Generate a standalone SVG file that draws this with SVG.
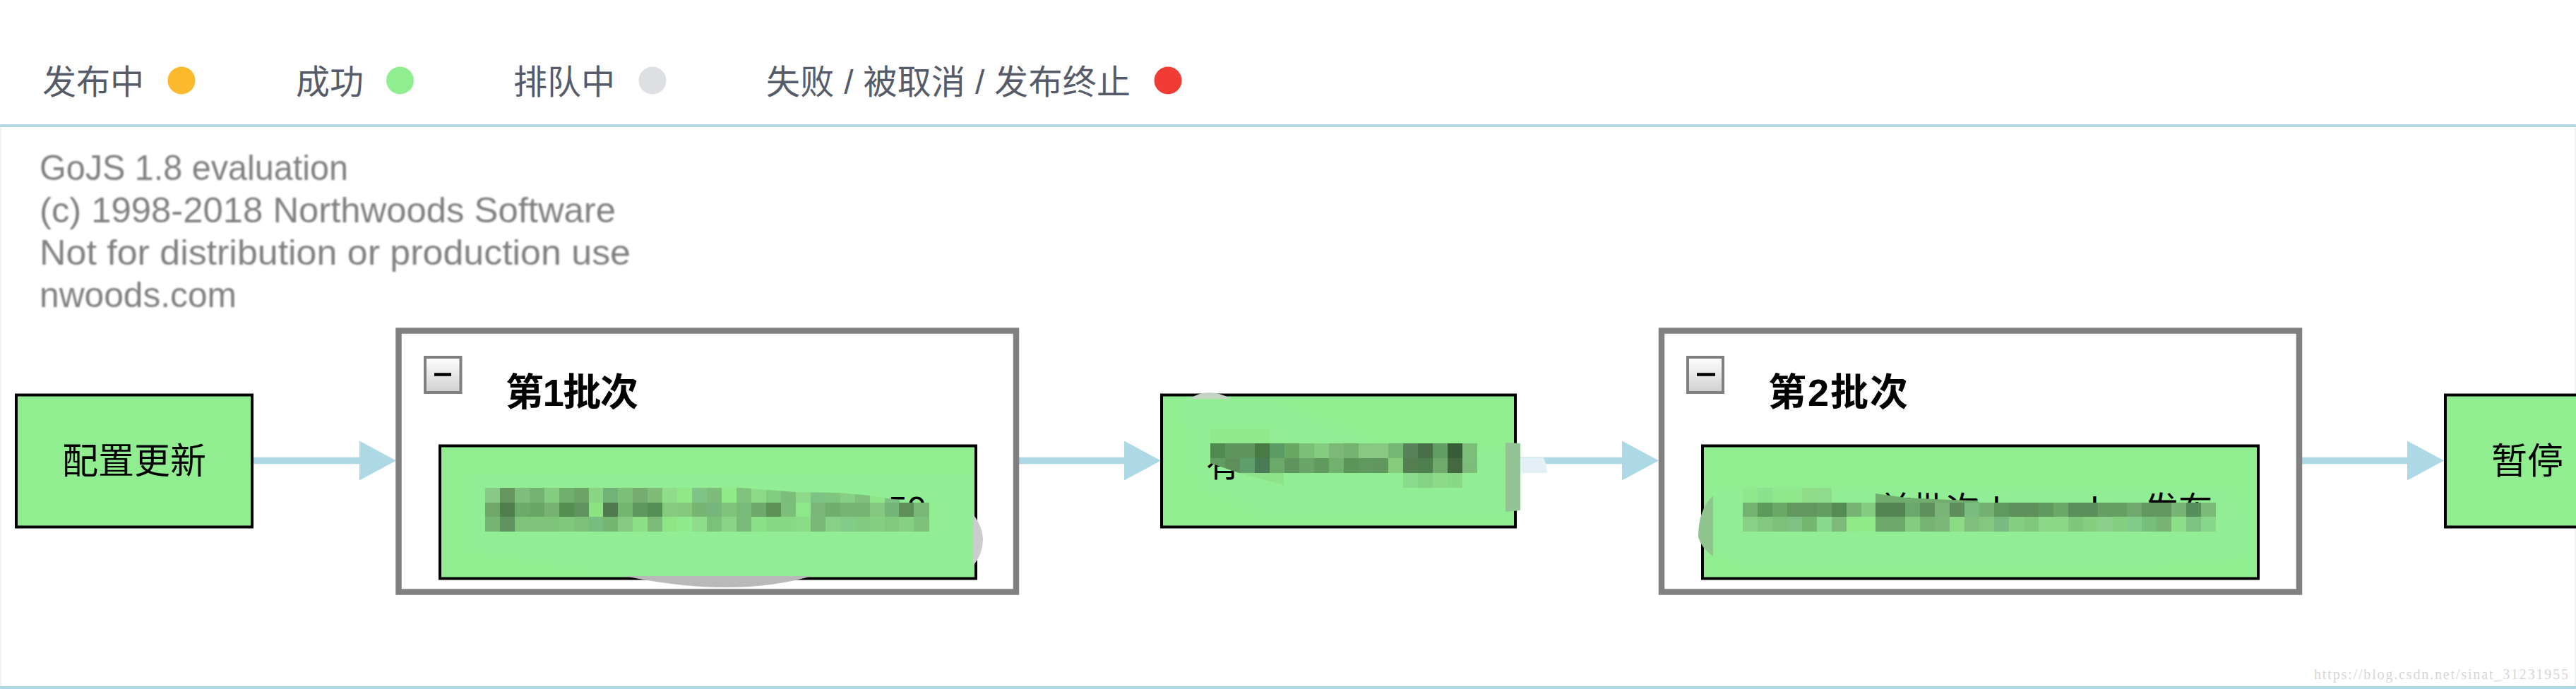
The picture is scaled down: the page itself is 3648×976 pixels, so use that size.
<svg xmlns="http://www.w3.org/2000/svg" width="3648" height="976" viewBox="0 0 3648 976">
<style>
text{font-family:"Liberation Sans","Noto Sans CJK SC",sans-serif}
.leg{font-size:48px;fill:#565b69}
.wm{font-size:50px;fill:#808080;filter:url(#soft)}
.lbl{font-size:51px;fill:#000;text-anchor:middle}
.frag{font-size:48px;fill:#000}
.ttl{font-size:54px;font-weight:700;fill:#000}
.box{fill:#90ee90;stroke:#000;stroke-width:4}
.grp{fill:#fff;stroke:#808080;stroke-width:8.5}
.btn{fill:url(#btnG);stroke:#808080;stroke-width:4}
.min{stroke:#000;stroke-width:4.5}
.lnk{fill:none;stroke:#add8e6;stroke-width:9.5;marker-end:url(#head)}
.pat{fill:#92ee94}
</style>
<defs>
<linearGradient id="btnG" x1="0" y1="0" x2="0" y2="1"><stop offset="0" stop-color="#fff"/><stop offset="1" stop-color="#cfcfcf"/></linearGradient>
<filter id="soft" x="-2%" y="-20%" width="104%" height="140%"><feGaussianBlur stdDeviation="0.8"/></filter>
<marker id="head" markerUnits="userSpaceOnUse" markerWidth="52" markerHeight="56" refX="1" refY="28" orient="auto"><path d="M0 0L52 28L0 56Z" fill="#add8e6"/></marker>
<clipPath id="c1"><path d="M680 691H1050L1127 697L1187 698L1233 702L1313 715L1320 760H680Z"/></clipPath>
<clipPath id="c2"><path d="M1700 640L1693 649L1755 670H2100V640Z"/></clipPath>
<clipPath id="c3"><path d="M1693 649L1818 687V700H1693Z"/></clipPath>
</defs>
<rect width="3648" height="976" fill="#fff"/>
<g id="frame">
<rect x="0" y="176" width="3648" height="4" fill="#b5d9e5"/>
<rect x="0" y="972" width="3648" height="4" fill="#add8e6"/>
<rect x="0" y="180" width="2" height="792" fill="#eaf4f7"/>
<rect x="3646" y="180" width="2" height="792" fill="#eaf4f7"/>
</g>
<g id="legend">
<text class="leg" x="60" y="133">发布中</text><circle cx="257" cy="114" r="19.5" fill="#fdb92c"/>
<text class="leg" x="419" y="133">成功</text><circle cx="566.5" cy="114" r="19.5" fill="#90ee90"/>
<text class="leg" x="727" y="133">排队中</text><circle cx="924" cy="114" r="19.5" fill="#dedfe3"/>
<text class="leg" x="1085" y="133" textLength="516">失败 / 被取消 / 发布终止</text><circle cx="1654" cy="114" r="19.5" fill="#f03c35"/>
</g>
<g id="watermark">
<text class="wm" x="56" y="255" textLength="437" lengthAdjust="spacingAndGlyphs">GoJS 1.8 evaluation</text>
<text class="wm" x="56" y="315" textLength="816" lengthAdjust="spacingAndGlyphs">(c) 1998-2018 Northwoods Software</text>
<text class="wm" x="56" y="375" textLength="837" lengthAdjust="spacingAndGlyphs">Not for distribution or production use</text>
<text class="wm" x="56" y="435" textLength="279" lengthAdjust="spacingAndGlyphs">nwoods.com</text>
</g>
<g id="connectors">
<path class="lnk" d="M359 652.5H510"/>
<path class="lnk" d="M1443 652.5H1593"/>
<path class="lnk" d="M2148 652.5H2298"/>
<path class="lnk" d="M3260 652.5H3410"/>
</g>
<g id="node-config">
<rect class="box" x="23" y="559.5" width="334" height="187"/>
<text class="lbl" x="190" y="671">配置更新</text>
</g>
<g id="group-1">
<rect class="grp" x="564.5" y="468.5" width="874.5" height="370"/>
<rect class="btn" x="602" y="506" width="50.5" height="50"/>
<path class="min" d="M615 530.5H639"/>
<text class="ttl" x="716" y="575" textLength="188">第1批次</text>
<rect class="box" x="623" y="631.5" width="759" height="188"/>
<path d="M880 815Q1040 849 1153 815Z" fill="#b9b9b9"/>
<path d="M1378 728Q1406 765 1378 802Z" fill="#ccc"/>
<path class="pat" d="M670 672H1378V816H880L660 780Z"/>
<text class="frag" x="1258" y="737">50</text>
<g clip-path="url(#c1)">
<path fill="#88c986" d="M687 691h21v21h-21z"/><path fill="#65965f" d="M708 691h21v21h-21z"/><path fill="#7dbe7c" d="M729 691h21v21h-21z"/><path fill="#74b472" d="M750 691h21v21h-21z"/><path fill="#84cc7f" d="M771 691h21v21h-21z"/><path fill="#70b06d" d="M792 691h21v21h-21z"/><path fill="#6ca567" d="M813 691h21v21h-21z"/><path fill="#89d583" d="M834 691h21v21h-21z"/><path fill="#70b277" d="M854 691h21v21h-21z"/><path fill="#7cc078" d="M875 691h21v21h-21z"/><path fill="#74ad6f" d="M896 691h21v21h-21z"/><path fill="#7ebc78" d="M917 691h21v21h-21z"/><path fill="#8fdc8a" d="M938 691h21v21h-21z"/><path fill="#90e887" d="M959 691h21v21h-21z"/><path fill="#7fc487" d="M980 691h21v21h-21z"/><path fill="#7dbd7c" d="M1001 691h21v21h-21z"/><path fill="#90ec89" d="M1022 691h21v21h-21z"/><path fill="#7fc37c" d="M1043 691h21v21h-21z"/><path fill="#8ddb89" d="M1064 691h21v21h-21z"/><path fill="#82cc80" d="M1085 691h21v21h-21z"/><path fill="#7dbd7a" d="M1106 691h21v21h-21z"/><path fill="#8cd98a" d="M1127 691h21v21h-21z"/><path fill="#7cc284" d="M1148 691h21v21h-21z"/><path fill="#7fc57d" d="M1169 691h21v21h-21z"/><path fill="#86cf85" d="M1190 691h21v21h-21z"/><path fill="#7ec07c" d="M1211 691h21v21h-21z"/><path fill="#90e48a" d="M1232 691h21v21h-21z"/><path fill="#7cc181" d="M1253 691h21v21h-21z"/>
</g>
<g id="mosaic-1b">
<path fill="#6ea768" d="M687 712h21v20h-21z"/><path fill="#4f7f4d" d="M708 712h21v20h-21z"/><path fill="#6bab69" d="M729 712h21v20h-21z"/><path fill="#68a666" d="M750 712h21v20h-21z"/><path fill="#76b270" d="M771 712h21v20h-21z"/><path fill="#548f52" d="M792 712h21v20h-21z"/><path fill="#629260" d="M813 712h21v20h-21z"/><path fill="#8be381" d="M834 712h21v20h-21z"/><path fill="#507a4e" d="M854 712h21v20h-21z"/><path fill="#72b66f" d="M875 712h21v20h-21z"/><path fill="#5f9760" d="M896 712h21v20h-21z"/><path fill="#568f55" d="M917 712h21v20h-21z"/><path fill="#86cb80" d="M938 712h21v20h-21z"/><path fill="#84c97e" d="M959 712h21v20h-21z"/><path fill="#76b572" d="M980 712h21v20h-21z"/><path fill="#76b67c" d="M1001 712h21v20h-21z"/><path fill="#7ec47a" d="M1022 712h21v20h-21z"/><path fill="#78bb78" d="M1043 712h21v20h-21z"/><path fill="#6fa86c" d="M1064 712h21v20h-21z"/><path fill="#5e9158" d="M1085 712h21v20h-21z"/><path fill="#7cbf7a" d="M1106 712h21v20h-21z"/><path fill="#8de887" d="M1127 712h21v20h-21z"/><path fill="#7ab67a" d="M1148 712h21v20h-21z"/><path fill="#6fae6c" d="M1169 712h21v20h-21z"/><path fill="#76b474" d="M1190 712h21v20h-21z"/><path fill="#76b474" d="M1211 712h21v20h-21z"/><path fill="#84c880" d="M1232 712h21v20h-21z"/><path fill="#74b57a" d="M1253 712h21v20h-21z"/><path fill="#5e8f58" d="M1273 712h21v20h-21z"/><path fill="#7ab878" d="M1294 712h22v20h-22z"/>
<path fill="#76b472" d="M687 732h21v21h-21z"/><path fill="#5f9360" d="M708 732h21v21h-21z"/><path fill="#7ec47a" d="M729 732h63v21h-63z"/><path fill="#80c97c" d="M792 732h21v21h-21z"/><path fill="#7dc279" d="M813 732h21v21h-21z"/><path fill="#78bd80" d="M834 732h21v21h-21z"/><path fill="#74b672" d="M854 732h21v21h-21z"/><path fill="#86cb82" d="M875 732h21v21h-21z"/><path fill="#8cdf86" d="M896 732h21v21h-21z"/><path fill="#7dbb78" d="M917 732h21v21h-21z"/><path fill="#8de586" d="M938 732h21v21h-21z"/><path fill="#8fec8c" d="M959 732h21v21h-21z"/><path fill="#8ddd8a" d="M980 732h21v21h-21z"/><path fill="#7ac27a" d="M1001 732h21v21h-21z"/><path fill="#88d484" d="M1022 732h21v21h-21z"/><path fill="#78ba78" d="M1043 732h21v21h-21z"/><path fill="#8bdf86" d="M1064 732h21v21h-21z"/><path fill="#88d985" d="M1085 732h42v21h-42z"/><path fill="#8bdc87" d="M1127 732h21v21h-21z"/><path fill="#78b978" d="M1148 732h21v21h-21z"/><path fill="#88d088" d="M1169 732h21v21h-21z"/><path fill="#80cc88" d="M1190 732h21v21h-21z"/><path fill="#82ca80" d="M1211 732h21v21h-21z"/><path fill="#84cf80" d="M1232 732h21v21h-21z"/><path fill="#82c980" d="M1253 732h21v21h-21z"/><path fill="#84d181" d="M1273 732h21v21h-21z"/><path fill="#7dc27a" d="M1294 732h22v21h-22z"/>
</g>
</g>
<g id="node-middle">
<rect class="box" x="1645" y="559.5" width="501" height="187"/>
<path d="M1685 565Q1710 547 1744 565Z" fill="#c4d4c4"/>
<path class="pat" d="M1670 566H1800L1950 630L2130 640V735H1800L1700 690Z"/>
<text class="frag" x="1708" y="675" clip-path="url(#c3)">有</text>
<path fill="#91ea8b" d="M1714 607h84v21h-84z"/>
<path fill="#4f8a51" d="M1714 628h21v21h-21z"/><path fill="#5f9660" d="M1735 628h42v21h-42z"/><path fill="#497a46" d="M1777 628h21v21h-21z"/><path fill="#5b9c66" d="M1798 628h21v21h-21z"/><path fill="#68a863" d="M1819 628h21v21h-21z"/><path fill="#7cc078" d="M1840 628h21v21h-21z"/><path fill="#84cc7f" d="M1861 628h21v21h-21z"/><path fill="#7cb977" d="M1882 628h21v21h-21z"/><path fill="#74b36f" d="M1903 628h21v21h-21z"/><path fill="#87c983" d="M1924 628h42v21h-42z"/><path fill="#74b874" d="M1966 628h21v21h-21z"/><path fill="#58835a" d="M1987 628h21v21h-21z"/><path fill="#496f4a" d="M2008 628h21v21h-21z"/><path fill="#609e66" d="M2029 628h21v21h-21z"/><path fill="#375c38" d="M2050 628h21v21h-21z"/><path fill="#7cbf79" d="M2071 628h21v21h-21z"/>
<g clip-path="url(#c2)"><path fill="#609b60" d="M1714 649h21v21h-21z"/><path fill="#5e8f5b" d="M1735 649h21v21h-21z"/><path fill="#5e9f6c" d="M1756 649h21v21h-21z"/></g>
<path fill="#4a7a56" d="M1777 649h21v21h-21z"/><path fill="#6ca968" d="M1798 649h21v21h-21z"/><path fill="#60945f" d="M1819 649h21v21h-21z"/><path fill="#69a568" d="M1840 649h21v21h-21z"/><path fill="#609a5e" d="M1861 649h21v21h-21z"/><path fill="#70b16e" d="M1882 649h21v21h-21z"/><path fill="#5a9559" d="M1903 649h21v21h-21z"/><path fill="#60995f" d="M1924 649h21v21h-21z"/><path fill="#61965f" d="M1945 649h21v21h-21z"/><path fill="#84cc7c" d="M1966 649h21v21h-21z"/><path fill="#557f50" d="M1987 649h21v21h-21z"/><path fill="#507f4f" d="M2008 649h21v21h-21z"/><path fill="#6fab6a" d="M2029 649h21v21h-21z"/><path fill="#43693f" d="M2050 649h21v21h-21z"/><path fill="#7cbd79" d="M2071 649h21v21h-21z"/>
<path fill="#8ee389" d="M1755 670H1818V687Z"/>
<path fill="#8adb8c" d="M1987 670h21v21h-21z"/><path fill="#85d285" d="M2008 670h21v21h-21z"/><path fill="#8ddb88" d="M2029 670h21v21h-21z"/><path fill="#88d886" d="M2050 670h21v21h-21z"/>
<path d="M2132 627L2153 628V723L2132 725Z" fill="#94c396"/>
<path d="M2153 648.5H2186Q2190 656 2191 670H2153Z" fill="#e4eff6"/>
</g>
<g id="group-2">
<rect class="grp" x="2353" y="468.5" width="903" height="370"/>
<rect class="btn" x="2390" y="506" width="50" height="50"/>
<path class="min" d="M2403 530.5H2429"/>
<text class="ttl" x="2504" y="575" textLength="198">第2批次</text>
<rect class="box" x="2411" y="631.5" width="787" height="188"/>
<path d="M2426 702Q2405 722 2405 760Q2408 775 2426 788Z" fill="#8ec48e"/>
<path class="pat" d="M2426 690H3150L3190 730V790L3000 805H2470L2426 780Z"/>
<text class="frag" y="738"><tspan x="2660">前批次</tspan><tspan x="2822">l</tspan><tspan x="2961">l</tspan><tspan x="3037">发布</tspan></text>
<path fill="#90e88d" d="M2468 691h21v21h-21z"/><path fill="#8ae28e" d="M2489 691h21v21h-21z"/><path fill="#90e88d" d="M2510 691h42v21h-42z"/><path fill="#8fdd89" d="M2552 691h21v21h-21z"/><path fill="#8ddb8b" d="M2573 691h21v21h-21z"/>
<path fill="#72ad70" d="M2656 699L2698 705L2760 708L2800 709L2803 712H2656Z"/>
<path fill="#74b272" d="M2468 712h21v20h-21z"/><path fill="#5c9a5c" d="M2489 712h21v20h-21z"/><path fill="#6aa866" d="M2510 712h21v20h-21z"/><path fill="#62985f" d="M2531 712h42v20h-42z"/><path fill="#629e60" d="M2573 712h21v20h-21z"/><path fill="#558c54" d="M2594 712h21v20h-21z"/><path fill="#78b474" d="M2615 712h21v20h-21z"/><path fill="#84cc80" d="M2636 712h20v20h-20z"/><path fill="#558555" d="M2656 712h42v20h-42z"/><path fill="#69a96d" d="M2698 712h21v20h-21z"/><path fill="#5f8f5d" d="M2719 712h21v20h-21z"/><path fill="#7bb477" d="M2740 712h21v20h-21z"/><path fill="#5e8c5c" d="M2761 712h21v20h-21z"/><path fill="#79bc7f" d="M2782 712h21v20h-21z"/><path fill="#74b072" d="M2803 712h21v20h-21z"/><path fill="#5f995f" d="M2824 712h21v20h-21z"/><path fill="#5f8f5c" d="M2845 712h42v20h-42z"/><path fill="#609a60" d="M2887 712h21v20h-21z"/><path fill="#6aa868" d="M2908 712h21v20h-21z"/><path fill="#5a8e5a" d="M2929 712h42v20h-42z"/><path fill="#659f63" d="M2971 712h41v20h-41z"/><path fill="#6fa96d" d="M3012 712h21v20h-21z"/><path fill="#62985f" d="M3033 712h42v20h-42z"/><path fill="#76b574" d="M3075 712h21v20h-21z"/><path fill="#578f5c" d="M3096 712h21v20h-21z"/><path fill="#7bbb78" d="M3117 712h21v20h-21z"/>
<path fill="#88d184" d="M2468 732h21v21h-21z"/><path fill="#82c880" d="M2489 732h21v21h-21z"/><path fill="#7cc179" d="M2510 732h21v21h-21z"/><path fill="#7dc185" d="M2531 732h21v21h-21z"/><path fill="#74b86f" d="M2552 732h21v21h-21z"/><path fill="#88d98d" d="M2573 732h21v21h-21z"/><path fill="#7cbc78" d="M2594 732h21v21h-21z"/><path fill="#90ea88" d="M2615 732h21v21h-21z"/><path fill="#90ec88" d="M2636 732h20v21h-20z"/><path fill="#6ea86b" d="M2656 732h42v21h-42z"/><path fill="#84cc80" d="M2698 732h21v21h-21z"/><path fill="#76b472" d="M2719 732h21v21h-21z"/><path fill="#7bb877" d="M2740 732h21v21h-21z"/><path fill="#8adb84" d="M2761 732h21v21h-21z"/><path fill="#7ec07c" d="M2782 732h21v21h-21z"/><path fill="#84c880" d="M2803 732h21v21h-21z"/><path fill="#78ba80" d="M2824 732h21v21h-21z"/><path fill="#85d080" d="M2845 732h21v21h-21z"/><path fill="#80c87c" d="M2866 732h21v21h-21z"/><path fill="#8bd887" d="M2887 732h42v21h-42z"/><path fill="#80c67c" d="M2929 732h21v21h-21z"/><path fill="#85d080" d="M2950 732h21v21h-21z"/><path fill="#8ad08a" d="M2971 732h20v21h-20z"/><path fill="#85d080" d="M2991 732h21v21h-21z"/><path fill="#80cc88" d="M3012 732h21v21h-21z"/><path fill="#78bf7c" d="M3033 732h21v21h-21z"/><path fill="#78b474" d="M3054 732h21v21h-21z"/><path fill="#8adf88" d="M3075 732h21v21h-21z"/><path fill="#7cc383" d="M3096 732h21v21h-21z"/><path fill="#88d58c" d="M3117 732h21v21h-21z"/>
</g>
<g id="node-pause">
<rect class="box" x="3463" y="559.5" width="200" height="187"/>
<text class="lbl" x="3579" y="671">暂停</text>
</g>
<text id="credit" x="3277" y="962" font-size="20" textLength="360" style="font-family:'Liberation Serif',serif" fill="#d6d6d6">https://blog.csdn.net/sinat_31231955</text>
</svg>
